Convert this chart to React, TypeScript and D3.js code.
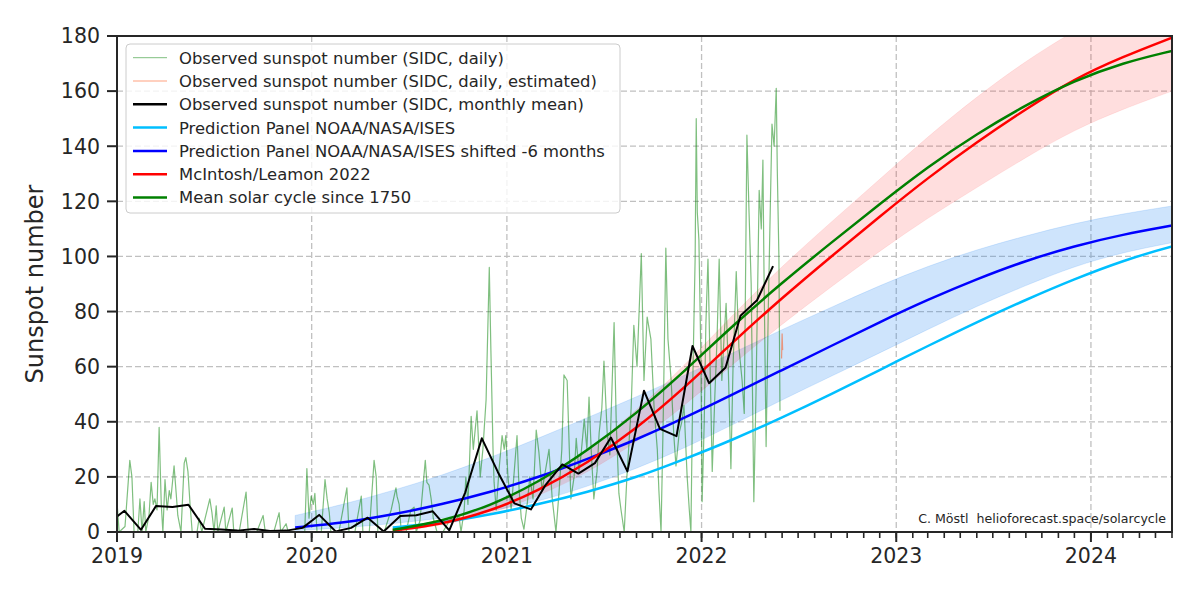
import * as d3 from "d3";

// ---- data ----
// daily observed sunspot number: [days since 2019-01-01, value]
const dailyObserved: [number, number][] = [
  [0, 11], [4, 0], [15, 2], [21, 18], [24, 26], [28, 20], [32, 0], [39, 0], [43, 12], [47, 0],
  [51, 11], [54, 0], [60, 6], [64, 18], [68, 10], [71, 12], [75, 8], [79, 38], [83, 10], [86, 0],
  [90, 19], [94, 8], [98, 15], [101, 12], [107, 24], [111, 14], [114, 6], [120, 0], [126, 25],
  [129, 27], [133, 22], [137, 10], [141, 0], [150, 0], [154, 5], [159, 0], [174, 12], [178, 7],
  [182, 0], [186, 9.5], [189, 0], [201, 9], [204, 0], [216, 8.7], [219, 0], [229, 0], [242, 14.5],
  [246, 0], [262, 0], [274, 6], [278, 0], [294, 0], [304, 7], [307, 0], [317, 3], [321, 0],
  [338, 0], [352, 0], [356, 23], [360, 5], [364, 13], [368, 10], [371, 14], [375, 0],
  [383, 0], [390, 19], [394, 12], [398, 7], [401, 0], [416, 0], [431, 16], [435, 0], [446, 0],
  [458, 13], [461, 0], [473, 0], [482, 26], [486, 20], [489, 0], [501, 0], [514, 8], [523, 16],
  [525, 13], [529, 10], [533, 0], [542, 0], [551, 8], [557, 9], [561, 0], [568, 4], [578, 26],
  [581, 18], [585, 17], [589, 12], [593, 5], [600, 0], [611, 0], [626, 5], [634, 4], [641, 6],
  [645, 0], [651, 8], [654, 20], [658, 10], [664, 42], [668, 30], [675, 44], [681, 20], [686, 30],
  [692, 48], [698, 96], [701, 66], [705, 30], [707, 18], [711, 8], [716, 22], [722, 35], [726, 30],
  [729, 35], [733, 20],
  [739, 8], [744, 20], [750, 35], [754, 15], [758, 5], [763, 1], [769, 10], [774, 20], [780, 12],
  [786, 37], [791, 29], [797, 15], [803, 22], [810, 30], [816, 12], [823, 0], [829, 15], [834, 30],
  [838, 57], [844, 55], [848, 30], [851, 12], [857, 20], [861, 34], [866, 22], [870, 28], [876, 41],
  [881, 30], [885, 49], [889, 30], [894, 12], [900, 22], [904, 36], [909, 45], [913, 62], [919, 36],
  [924, 28], [932, 76], [936, 40], [941, 14], [945, 8], [951, 0], [956, 20], [964, 45], [969, 75],
  [975, 60], [983, 101], [988, 55], [994, 78], [1001, 70], [1007, 45], [1013, 30], [1016, 15],
  [1020, 0], [1024, 40], [1029, 103], [1033, 70], [1039, 55], [1044, 35], [1048, 24], [1054, 36],
  [1059, 40], [1063, 46], [1069, 20], [1073, 8], [1076, 0], [1080, 60], [1084, 100], [1086, 150],
  [1088, 116], [1091, 106], [1095, 60], [1097, 11],
  [1101, 40], [1104, 75], [1108, 99], [1112, 60], [1116, 22], [1121, 50], [1125, 70], [1129, 99],
  [1134, 55], [1138, 70], [1142, 83], [1146, 60], [1151, 23], [1155, 60], [1161, 94.5], [1166, 67],
  [1172, 55], [1176, 43], [1181, 144], [1185, 116], [1189, 90], [1194, 11], [1198, 50], [1204, 124],
  [1208, 110], [1211, 135], [1213, 95], [1217, 31], [1221, 80], [1228, 148], [1232, 140],
  [1236, 161], [1238, 131], [1241, 100], [1243, 44],
];
const dailyEstimated: [number, number][] = [[1246, 63], [1247, 72], [1248, 66]];

// monthly mean, one value per month starting Dec 2018
const monthlyStart = "2018-12-15";
const monthlyMean = [
  3.1,
  7.7, 0.8, 9.4, 9.1, 9.9, 1.2, 0.9, 0.5, 1.1, 0.4, 0.5, 1.5,
  6.2, 0.2, 1.5, 5.2, 0.2, 5.8, 6.1, 7.5, 0.6, 14.4, 34.0, 21.8,
  10.4, 8.2, 17.2, 24.5, 21.2, 25.0, 34.3, 22.0, 51.3, 37.4, 34.8, 67.5,
  54.0, 59.7, 78.5, 84.1, 96.5,
];

// NOAA/NASA/ISES panel prediction (quarterly)
const panelDates = [
  "2020-06-01", "2020-09-01", "2020-12-01", "2021-03-01", "2021-06-01", "2021-09-01", "2021-12-01",
  "2022-03-01", "2022-06-01", "2022-09-01", "2022-12-01", "2023-03-01", "2023-06-01", "2023-09-01",
  "2023-12-01", "2024-03-01", "2024-06-01", "2024-09-01", "2024-12-01",
];
const panelValues = [1.6, 3.3, 6.3, 10, 14.5, 19.8, 26.5, 33.5, 41.5, 50, 58.8, 67.5, 76.2, 84.3, 91.8, 98.5, 103.8, 108, 111.2];
// uncertainty band drawn around the -6 month shifted curve
const shiftedLow = [0.5, 1.5, 3, 5, 7.5, 11, 16.5, 23, 30.5, 39, 48, 56.5, 65, 73.5, 82, 89.5, 96.5, 101.5, 105];
const shiftedHigh = [6, 10, 15, 20.5, 27, 34, 41.5, 49, 57, 65, 73.5, 81.5, 89.5, 96.5, 102.5, 107.5, 112, 115.5, 118.3];

// McIntosh/Leamon and mean cycle (quarterly)
const cycleDates = panelDates.slice(0, 17);
const mcintosh = [0.5, 2.8, 7.5, 15, 25, 37.5, 52.5, 69, 85, 100, 114.5, 128.5, 141.5, 153.5, 164.5, 172.5, 179.4];
const mcintoshLow = [0, 2.3, 6.5, 13, 21.5, 32.5, 46, 61, 75.5, 89, 102, 114, 125, 136, 146, 153.5, 160];
const mcintoshHigh = [1, 3.5, 9, 17.5, 29.5, 44, 60.5, 79, 96.5, 112.5, 128, 143.5, 158, 171, 182, 191, 198];
const meanCycle = [0.8, 3.8, 9.5, 18, 29.5, 43, 58.5, 75, 90.5, 105, 119, 132.5, 144.5, 155, 163.8, 170.3, 174.6];

const yTicks = [0, 20, 40, 60, 80, 100, 120, 140, 160, 180];
const yearTicks = [2019, 2020, 2021, 2022, 2023, 2024];

const legendItems = [
  { label: "Observed sunspot number (SIDC, daily)", color: "#008000", width: 1, opacity: 0.5 },
  { label: "Observed sunspot number (SIDC, daily, estimated)", color: "#ff4500", width: 1, opacity: 0.5 },
  { label: "Observed sunspot number (SIDC, monthly mean)", color: "#000000", width: 2.5, opacity: 1 },
  { label: "Prediction Panel NOAA/NASA/ISES", color: "#00bfff", width: 2.5, opacity: 1 },
  { label: "Prediction Panel NOAA/NASA/ISES shifted -6 months", color: "#0000ff", width: 2.5, opacity: 1 },
  { label: "McIntosh/Leamon 2022", color: "#ff0000", width: 2.5, opacity: 1 },
  { label: "Mean solar cycle since 1750", color: "#008000", width: 2.5, opacity: 1 },
];

const W = 1200;
const H = 600;
const L = 117;
const R = 1172;
const T = 36;
const B = 532;
const ink = "#262626";
const font = "DejaVu Sans, sans-serif";

export default function App() {
  const day0 = new Date(2019, 0, 1);
  const x = d3.scaleTime().domain([day0, new Date(2024, 5, 1)]).range([L, R]);
  const y = d3.scaleLinear().domain([0, 180]).range([B, T]);
  const parse = d3.timeParse("%Y-%m-%d");

  const dayLine = d3
    .line<[number, number]>()
    .x((d) => x(d3.timeDay.offset(day0, d[0])))
    .y((d) => y(d[1]));

  const m0 = parse(monthlyStart)!;
  const monthly = monthlyMean.map((v, i) => ({ date: d3.timeMonth.offset(m0, i), v }));
  const monthlyLine = d3
    .line<{ date: Date; v: number }>()
    .x((d) => x(d.date))
    .y((d) => y(d.v));

  const smooth = d3
    .line<{ date: Date; v: number }>()
    .x((d) => x(d.date))
    .y((d) => y(d.v))
    .curve(d3.curveBasis);
  const band = d3
    .area<{ date: Date; lo: number; hi: number }>()
    .x((d) => x(d.date))
    .y0((d) => y(d.lo))
    .y1((d) => y(d.hi))
    .curve(d3.curveBasis);

  const panel = panelDates.map((s, i) => ({ date: parse(s)!, v: panelValues[i] }));
  const shifted = panelDates.map((s, i) => ({ date: d3.timeMonth.offset(parse(s)!, -6), v: panelValues[i] }));
  const shiftedBand = panelDates.map((s, i) => ({
    date: d3.timeMonth.offset(parse(s)!, -6),
    lo: shiftedLow[i],
    hi: shiftedHigh[i],
  }));
  const mc = cycleDates.map((s, i) => ({ date: parse(s)!, v: mcintosh[i] }));
  const mcBand = cycleDates.map((s, i) => ({ date: parse(s)!, lo: mcintoshLow[i], hi: mcintoshHigh[i] }));
  const mean = cycleDates.map((s, i) => ({ date: parse(s)!, v: meanCycle[i] }));

  const months = d3.timeMonth.range(day0, new Date(2024, 5, 2));

  return (
    <svg width={W} height={H} style={{ position: "absolute", left: 0, top: 0 }} fontFamily={font}>
      <defs>
        <clipPath id="plot">
          <rect x={L} y={T} width={R - L} height={B - T} />
        </clipPath>
      </defs>
      <rect x={0} y={0} width={W} height={H} fill="white" />

      {/* grid */}
      <g stroke="#c0c0c0" strokeWidth={1.3} strokeDasharray="6,3">
        {yTicks.map((t) => (
          <line key={"gy" + t} x1={L} x2={R} y1={y(t)} y2={y(t)} />
        ))}
        {yearTicks.map((t) => (
          <line key={"gx" + t} x1={x(new Date(t, 0, 1))} x2={x(new Date(t, 0, 1))} y1={T} y2={B} />
        ))}
      </g>

      <g clipPath="url(#plot)">
        <path d={band(shiftedBand)!} fill="#1e82f0" fillOpacity={0.22} stroke="#1e82f0" strokeOpacity={0.15} />
        <path d={band(mcBand)!} fill="#ff0000" fillOpacity={0.13} stroke="#ff0000" strokeOpacity={0.08} />
        <path d={dayLine(dailyObserved)!} fill="none" stroke="#008000" strokeOpacity={0.5} strokeWidth={1.2} strokeLinejoin="round" />
        <path d={dayLine(dailyEstimated)!} fill="none" stroke="#ff4500" strokeOpacity={0.5} strokeWidth={1.2} />
        <path d={smooth(panel)!} fill="none" stroke="#00bfff" strokeWidth={2.5} />
        <path d={smooth(shifted)!} fill="none" stroke="#0000ff" strokeWidth={2.5} />
        <path d={smooth(mc)!} fill="none" stroke="#ff0000" strokeWidth={2.5} />
        <path d={smooth(mean)!} fill="none" stroke="#008000" strokeWidth={2.5} />
        <path d={monthlyLine(monthly)!} fill="none" stroke="#000000" strokeWidth={2} strokeLinejoin="round" />
      </g>

      {/* frame */}
      <rect x={L} y={T} width={R - L} height={B - T} fill="none" stroke={ink} strokeWidth={2} />

      {/* y axis */}
      {yTicks.map((t) => (
        <g key={"yt" + t}>
          <line x1={L - 10} x2={L} y1={y(t)} y2={y(t)} stroke={ink} strokeWidth={2} />
          <text x={L - 17} y={y(t)} dy="0.36em" textAnchor="end" fontSize={20.5} fill={ink}>
            {t}
          </text>
        </g>
      ))}
      <text transform={`translate(43,${(T + B) / 2}) rotate(-90)`} textAnchor="middle" fontSize={24} fill={ink}>
        Sunspot number
      </text>

      {/* x axis */}
      {months.map((m) => (
        <line key={"mt" + m.getTime()} x1={x(m)} x2={x(m)} y1={B} y2={B + 6} stroke={ink} strokeWidth={1.6} />
      ))}
      {yearTicks.map((t) => (
        <g key={"xt" + t}>
          <line x1={x(new Date(t, 0, 1))} x2={x(new Date(t, 0, 1))} y1={B} y2={B + 10} stroke={ink} strokeWidth={2} />
          <text x={x(new Date(t, 0, 1))} y={563} textAnchor="middle" fontSize={20.5} fill={ink}>
            {t}
          </text>
        </g>
      ))}

      {/* legend */}
      <rect x={126} y={44} width={494} height={169} rx={4} fill="white" fillOpacity={0.8} stroke="#cccccc" strokeWidth={1} />
      {legendItems.map((it, i) => {
        const cy = 57.7 + i * 23.3;
        return (
          <g key={it.label}>
            <line x1={133} x2={167} y1={cy} y2={cy} stroke={it.color} strokeWidth={it.width} strokeOpacity={it.opacity} />
            <text x={179} y={cy} dy="0.36em" fontSize={16.4} fill={ink}>
              {it.label}
            </text>
          </g>
        );
      })}

      <text x={1166} y={523} textAnchor="end" fontSize={12.6} fill={ink}>
        {"C. Möstl\u00a0 helioforecast.space/solarcycle"}
      </text>
    </svg>
  );
}
